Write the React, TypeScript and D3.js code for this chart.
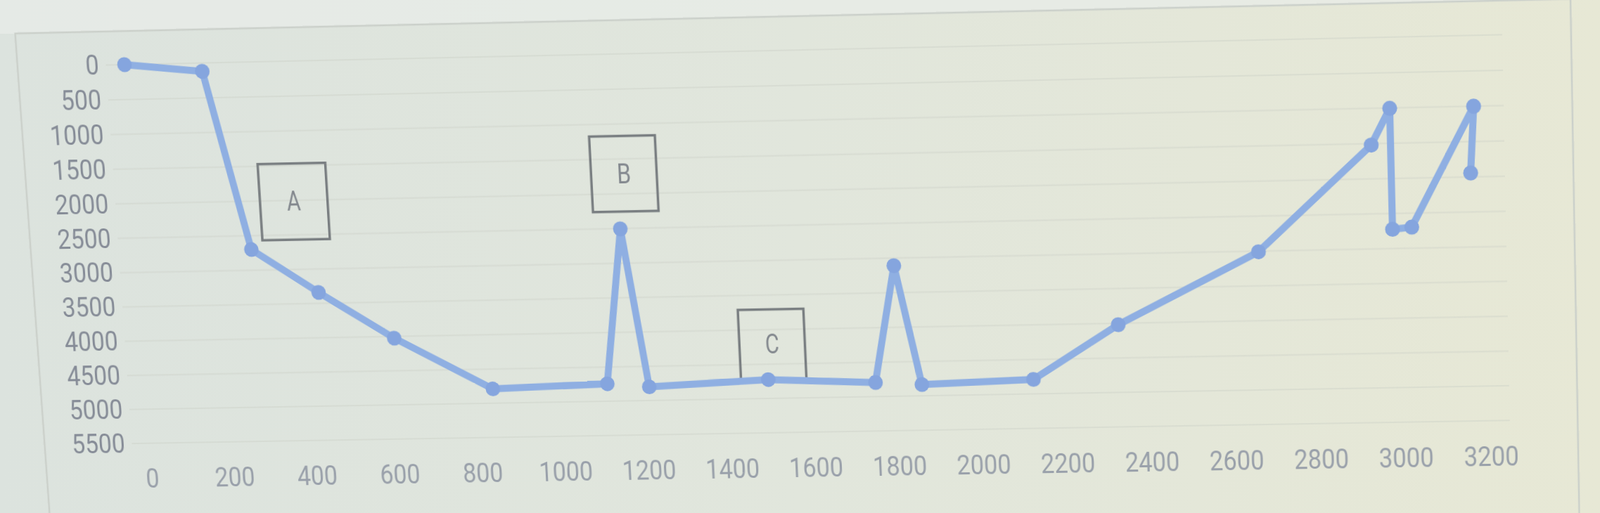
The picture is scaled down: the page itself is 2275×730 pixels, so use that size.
import React from "react";
import * as d3 from "d3";

// ---- data ----
const depthX: number[] = [0, 185, 275, 430, 605, 835, 1110, 1160, 1210, 1495, 1750, 1805, 1860, 2125, 2330, 2665, 2935, 2980, 2980, 3025, 3175, 3165];
const depthY: number[] = [0, 120, 2700, 3340, 4025, 4790, 4745, 2505, 4800, 4725, 4795, 3110, 4835, 4790, 4020, 3010, 1520, 1005, 2725, 2700, 1000, 1945];
const xTicks: number[] = [0, 200, 400, 600, 800, 1000, 1200, 1400, 1600, 1800, 2000, 2200, 2400, 2600, 2800, 3000, 3200];
const yTicks: number[] = [0, 500, 1000, 1500, 2000, 2500, 3000, 3500, 4000, 4500, 5000, 5500];
const boxLabels: string[] = ["A", "B", "C"];
const boxX0: number[] = [303, 1097, 1430];
const boxX1: number[] = [465, 1253, 1586];
const boxY0: number[] = [1469, 1171, 3707];
const boxY1: number[] = [2569, 2256, 4727];

const W = 2275;
const H = 730;

// photo perspective: chart-plane corners -> picture corners
const SRC: [number, number][] = [[177, 92], [2109, 92], [177, 681], [2109, 681]];
const DST: [number, number][] = [[177, 92], [2109, 50], [217, 681], [2121, 650]];

function solve(A: number[][], b: number[]): number[] {
  const n = b.length;
  const M = A.map((r, i) => [...r, b[i]]);
  for (let c = 0; c < n; c++) {
    let p = c;
    for (let r = c + 1; r < n; r++) if (Math.abs(M[r][c]) > Math.abs(M[p][c])) p = r;
    [M[c], M[p]] = [M[p], M[c]];
    for (let r = 0; r < n; r++) {
      if (r === c) continue;
      const f = M[r][c] / M[c][c];
      for (let k = c; k <= n; k++) M[r][k] -= f * M[c][k];
    }
  }
  return M.map((r, i) => r[n] / r[i]);
}

function matrix3d(src: [number, number][], dst: [number, number][]): string {
  const A: number[][] = [];
  const b: number[] = [];
  for (let i = 0; i < 4; i++) {
    const [x, y] = src[i];
    const [X, Y] = dst[i];
    A.push([x, y, 1, 0, 0, 0, -X * x, -X * y]);
    b.push(X);
    A.push([0, 0, 0, x, y, 1, -Y * x, -Y * y]);
    b.push(Y);
  }
  const [a, bb, c, d, e, f, g, h] = solve(A, b);
  return `matrix3d(${a},${d},0,${g},${bb},${e},0,${h},0,0,1,0,${c},${f},0,1)`;
}

export default function App() {
  const x = d3.scaleLinear().domain([0, 3200]).range([177, 2109]);
  const y = d3.scaleLinear().domain([0, 5500]).range([92, 630]);
  const pts = depthX.map((v, i) => [v, depthY[i]] as [number, number]);
  const line = d3
    .line<[number, number]>()
    .x((d) => x(d[0]))
    .y((d) => y(d[1]));
  const font = "Roboto, 'Noto Sans', sans-serif";
  const digitW = 19.5;
  const transform = matrix3d(SRC, DST);
  return (
    <div
      style={{
        position: "absolute",
        left: 0,
        top: 0,
        width: W,
        height: H,
        overflow: "hidden",
        background: "linear-gradient(90deg, #dce3de 0%, #e1e6dc 50%, #e7e8d5 100%)",
      }}
    >
      <div
        style={{
          position: "absolute",
          left: 0,
          top: 0,
          width: W,
          height: H,
          transformOrigin: "0 0",
          transform,
        }}
      >
        <svg width={W} height={H} style={{ display: "block", overflow: "visible" }}>
          <rect x={-200} y={-200} width={W + 400} height={245} fill="#e8ece8" opacity={0.75} />
          <rect x={22} y={45} width={2210} height={H + 200} fill="none" stroke="#cbd0ca" strokeWidth={2.5} />
          {yTicks.map((t) => (
            <line
              key={"g" + t}
              x1={150}
              x2={2136}
              y1={y(t)}
              y2={y(t)}
              stroke="#cbd0c7"
              strokeWidth={2}
              opacity={0.42}
            />
          ))}
          {yTicks.map((t) => (
            <text
              key={"yl" + t}
              x={140}
              y={y(t)}
              textAnchor="end"
              dominantBaseline="central"
              fontFamily={font}
              fontSize={39}
              fill="#868c97"
              textLength={String(t).length * digitW}
              lengthAdjust="spacingAndGlyphs"
            >
              {t}
            </text>
          ))}
          {xTicks.map((t) => (
            <text
              key={"xl" + t}
              x={x(t)}
              y={681}
              textAnchor="middle"
              dominantBaseline="central"
              fontFamily={font}
              fontSize={39}
              fill="#99a0aa"
              textLength={String(t).length * digitW}
              lengthAdjust="spacingAndGlyphs"
            >
              {t}
            </text>
          ))}
          {boxLabels.map((lab, i) => {
            const bx = x(boxX0[i]);
            const bw = x(boxX1[i]) - bx;
            const by = y(boxY0[i]);
            const bh = y(boxY1[i]) - by;
            return (
              <g key={"b" + lab}>
                <rect x={bx} y={by} width={bw} height={bh} fill="none" stroke="#797e81" strokeWidth={3.5} />
                <text
                  x={bx + bw / 2}
                  y={by + bh / 2}
                  textAnchor="middle"
                  dominantBaseline="central"
                  fontFamily={font}
                  fontSize={39}
                  fill="#83888e"
                  textLength={20}
                  lengthAdjust="spacingAndGlyphs"
                >
                  {lab}
                </text>
              </g>
            );
          })}
          <path
            d={line(pts) || ""}
            fill="none"
            stroke="#8fafe2"
            strokeWidth={10}
            strokeLinejoin="round"
            strokeLinecap="round"
          />
          {pts.map((p, i) => (
            <circle key={"p" + i} cx={x(p[0])} cy={y(p[1])} r={10.5} fill="#85a5de" />
          ))}
        </svg>
      </div>
    </div>
  );
}
